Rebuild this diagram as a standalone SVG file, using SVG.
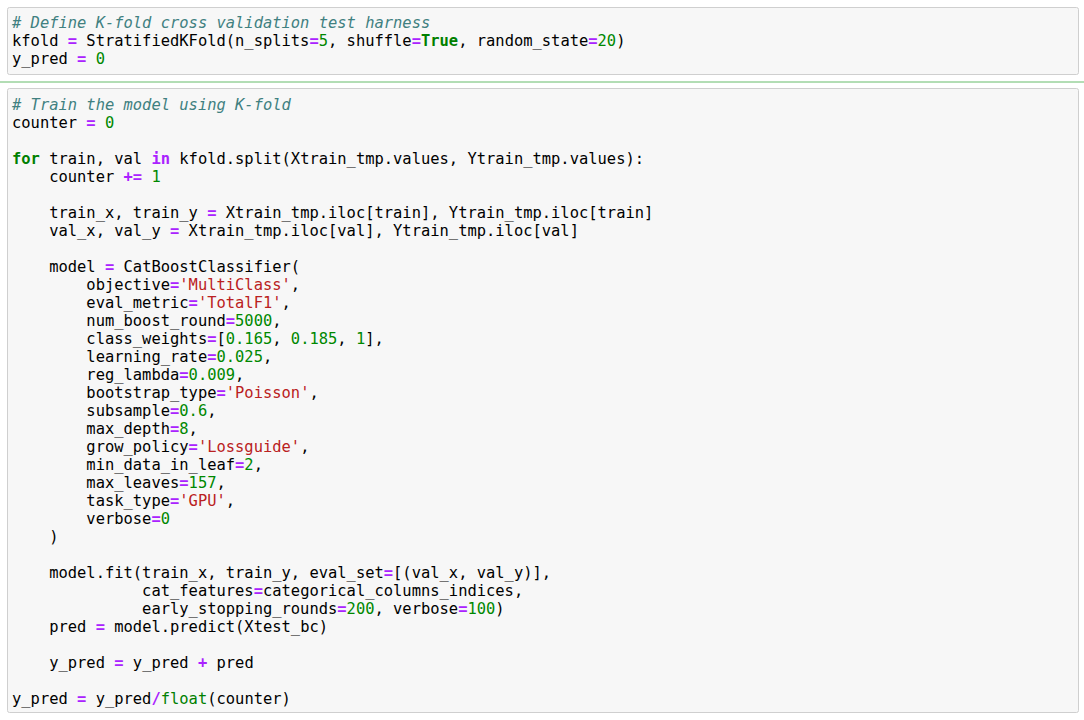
<svg xmlns="http://www.w3.org/2000/svg" width="1084" height="720" viewBox="0 0 1084 720">
<style>
text{font-family:"DejaVu Sans Mono",monospace;font-size:15.45px;fill:#000;white-space:pre}
.c{fill:#408080;font-style:italic}.k{fill:#008000;font-weight:bold}.o{fill:#AA22FF;font-weight:bold}.n{fill:#008800}.s{fill:#BA2121}.b{fill:#008000}
.box{fill:#f7f7f7;stroke:#cfcfcf;stroke-width:1}
</style>
<rect width="1084" height="720" fill="#fff"/>
<g id="cell1">
<rect class="box" x="7.5" y="7.5" width="1071" height="67" rx="2"/>
<text x="12" y="28" xml:space="preserve"><tspan class="c"># Define K-fold cross validation test harness</tspan></text>
<text x="12" y="46" xml:space="preserve">kfold <tspan class="o">=</tspan> StratifiedKFold(n_splits<tspan class="o">=</tspan><tspan class="n">5</tspan>, shuffle<tspan class="o">=</tspan><tspan class="k">True</tspan>, random_state<tspan class="o">=</tspan><tspan class="n">20</tspan>)</text>
<text x="12" y="64" xml:space="preserve">y_pred <tspan class="o">=</tspan> <tspan class="n">0</tspan></text>
</g>
<line x1="0" y1="82" x2="1084" y2="82" stroke="#66bb6a" stroke-width="1"/>
<g id="cell2">
<rect class="box" x="7.5" y="88.5" width="1071" height="624" rx="2"/>
<text x="12" y="110" xml:space="preserve"><tspan class="c"># Train the model using K-fold</tspan></text>
<text x="12" y="128" xml:space="preserve">counter <tspan class="o">=</tspan> <tspan class="n">0</tspan></text>
<text x="12" y="164" xml:space="preserve"><tspan class="k">for</tspan> train, val <tspan class="o">in</tspan> kfold.split(Xtrain_tmp.values, Ytrain_tmp.values):</text>
<text x="12" y="182" xml:space="preserve">    counter <tspan class="o">+=</tspan> <tspan class="n">1</tspan></text>
<text x="12" y="218" xml:space="preserve">    train_x, train_y <tspan class="o">=</tspan> Xtrain_tmp.iloc[train], Ytrain_tmp.iloc[train]</text>
<text x="12" y="236" xml:space="preserve">    val_x, val_y <tspan class="o">=</tspan> Xtrain_tmp.iloc[val], Ytrain_tmp.iloc[val]</text>
<text x="12" y="272" xml:space="preserve">    model <tspan class="o">=</tspan> CatBoostClassifier(</text>
<text x="12" y="290" xml:space="preserve">        objective<tspan class="o">=</tspan><tspan class="s">'MultiClass'</tspan>,</text>
<text x="12" y="308" xml:space="preserve">        eval_metric<tspan class="o">=</tspan><tspan class="s">'TotalF1'</tspan>,</text>
<text x="12" y="326" xml:space="preserve">        num_boost_round<tspan class="o">=</tspan><tspan class="n">5000</tspan>,</text>
<text x="12" y="344" xml:space="preserve">        class_weights<tspan class="o">=</tspan>[<tspan class="n">0.165</tspan>, <tspan class="n">0.185</tspan>, <tspan class="n">1</tspan>],</text>
<text x="12" y="362" xml:space="preserve">        learning_rate<tspan class="o">=</tspan><tspan class="n">0.025</tspan>,</text>
<text x="12" y="380" xml:space="preserve">        reg_lambda<tspan class="o">=</tspan><tspan class="n">0.009</tspan>,</text>
<text x="12" y="398" xml:space="preserve">        bootstrap_type<tspan class="o">=</tspan><tspan class="s">'Poisson'</tspan>,</text>
<text x="12" y="416" xml:space="preserve">        subsample<tspan class="o">=</tspan><tspan class="n">0.6</tspan>,</text>
<text x="12" y="434" xml:space="preserve">        max_depth<tspan class="o">=</tspan><tspan class="n">8</tspan>,</text>
<text x="12" y="452" xml:space="preserve">        grow_policy<tspan class="o">=</tspan><tspan class="s">'Lossguide'</tspan>,</text>
<text x="12" y="470" xml:space="preserve">        min_data_in_leaf<tspan class="o">=</tspan><tspan class="n">2</tspan>,</text>
<text x="12" y="488" xml:space="preserve">        max_leaves<tspan class="o">=</tspan><tspan class="n">157</tspan>,</text>
<text x="12" y="506" xml:space="preserve">        task_type<tspan class="o">=</tspan><tspan class="s">'GPU'</tspan>,</text>
<text x="12" y="524" xml:space="preserve">        verbose<tspan class="o">=</tspan><tspan class="n">0</tspan></text>
<text x="12" y="542" xml:space="preserve">    )</text>
<text x="12" y="578" xml:space="preserve">    model.fit(train_x, train_y, eval_set<tspan class="o">=</tspan>[(val_x, val_y)],</text>
<text x="12" y="596" xml:space="preserve">              cat_features<tspan class="o">=</tspan>categorical_columns_indices,</text>
<text x="12" y="614" xml:space="preserve">              early_stopping_rounds<tspan class="o">=</tspan><tspan class="n">200</tspan>, verbose<tspan class="o">=</tspan><tspan class="n">100</tspan>)</text>
<text x="12" y="632" xml:space="preserve">    pred <tspan class="o">=</tspan> model.predict(Xtest_bc)</text>
<text x="12" y="668" xml:space="preserve">    y_pred <tspan class="o">=</tspan> y_pred <tspan class="o">+</tspan> pred</text>
<text x="12" y="704" xml:space="preserve">y_pred <tspan class="o">=</tspan> y_pred<tspan class="o">/</tspan><tspan class="b">float</tspan>(counter)</text>
</g>
</svg>
